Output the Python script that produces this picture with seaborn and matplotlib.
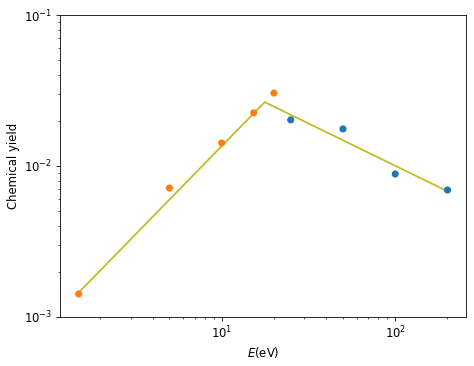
import numpy as np
import pandas as pd
import matplotlib
matplotlib.use("Agg")
import matplotlib.pyplot as plt
import seaborn as sns

# measured points, low energy (orange) and high energy (blue)
e_low = [1.5, 5, 10, 15.3, 20]
y_low = [0.00142, 0.00714, 0.0142, 0.0225, 0.0304]
e_high = [25, 50, 100, 200]
y_high = [0.0202, 0.0176, 0.00885, 0.00693]

# fitted curve
e_fit = [1.5, 17.7, 200]
y_fit = [0.00145, 0.0265, 0.0068]

low = pd.DataFrame({'E': e_low, 'yield': y_low})
high = pd.DataFrame({'E': e_high, 'yield': y_high})
fit = pd.DataFrame({'E': e_fit, 'yield': y_fit})

plt.rcParams['font.size'] = 11.3
plt.rcParams['xtick.major.size'] = 4
plt.rcParams['ytick.major.size'] = 4

fig, ax = plt.subplots(figsize=(474/74, 366/74), dpi=74)
sns.scatterplot(data=high, x='E', y='yield', color='C0', s=48, edgecolor='none', ax=ax, zorder=3)
sns.scatterplot(data=low, x='E', y='yield', color='C1', s=48, edgecolor='none', ax=ax, zorder=3)
sns.lineplot(data=fit, x='E', y='yield', color='C8', linewidth=1.7, ax=ax, zorder=2)
ax.set_xscale('log')
ax.set_yscale('log')
ax.set_ylim(1e-3, 1e-1)
ax.set_xlabel('$E$(eV)')
ax.set_ylabel('Chemical yield')
fig.subplots_adjust(left=0.127, right=0.983, top=0.959, bottom=0.134)
fig.savefig('out.png', dpi=74)
